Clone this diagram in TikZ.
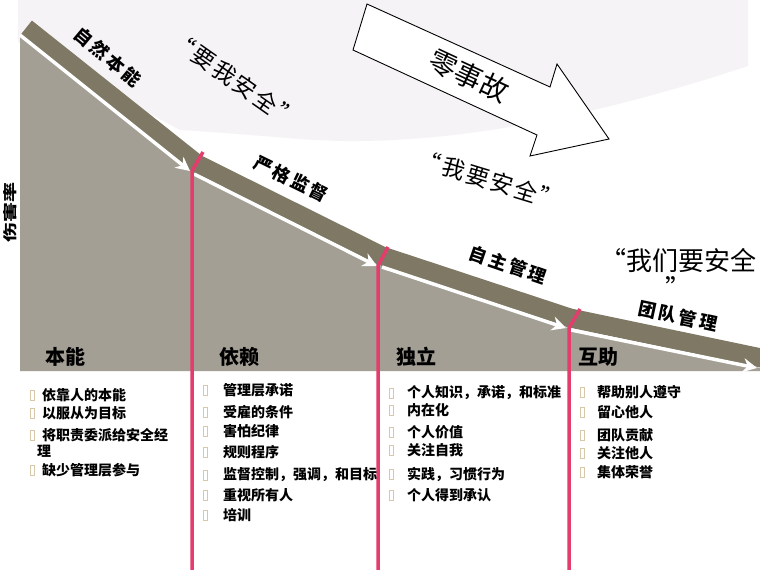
\documentclass[tikz,border=0pt]{standalone}
\usepackage{fontspec}
\setmainfont{Noto Sans CJK SC}
\usetikzlibrary{arrows.meta}

\definecolor{paper}{RGB}{246,243,246}
\definecolor{bandgray}{RGB}{126,120,101}
\definecolor{areagray}{RGB}{164,159,149}
\definecolor{pinkred}{RGB}{228,61,109}
\definecolor{bulcol}{RGB}{215,200,170}

\tikzset{
  wline/.style={white, line width=3.5pt, -{Stealth[length=14pt,width=14pt]}},
  pline/.style={pinkred, line width=3.5pt, line join=round},
  bandlbl/.style={font=\fontsize{18}{18}\selectfont\bfseries\addfontfeature{LetterSpace=15}},
  quotelbl/.style={font=\fontsize{23}{28}\selectfont\addfontfeature{LetterSpace=10}},
  stagelbl/.style={font=\fontsize{20}{20}\selectfont\bfseries},
  item/.style={anchor=west, font=\fontsize{14}{14}\selectfont\bfseries},
  bul/.style={draw=bulcol, line width=0.8pt}
}

\begin{document}
\begin{tikzpicture}[x=1pt, y=-1pt, every node/.style={inner sep=0pt}]
        \clip (0,0) rectangle (760,570);
        \fill[white] (0,0) rectangle (760,570);
        % background
        \fill[paper] (18,0) -- (748,0) -- (748,66) .. controls (600,115) and (440,150) .. (300,139)
              .. controls (250,135) and (215,132) .. (180,130) -- (18,42) -- cycle;
        % big arrow
        \draw[black, line width=0.9pt, fill=white, line join=miter]
              (367,4) -- (550,87) -- (557,64) -- (609,139) -- (530,156) -- (537,135) -- (353,50) -- cycle;
        \node[font=\fontsize{28}{28}\selectfont, rotate=-25] (lingshigu) at (469,76) {零事故};
        % band and area
        \draw[bandgray, line width=19pt] (26,28) -- (197,164) -- (382,256) -- (570,318) -- (790,364);
        \fill[areagray] (20,35) -- (191,171) -- (378,265) -- (568,328) -- (760,368) -- (760,371) -- (20,371) -- cycle;
        \draw[wline] (20,35) -- (190,171);
        \draw[wline] (194,174) -- (377,266);
        \draw[wline] (382,267) -- (566,328);
        \draw[wline] (571,330) -- (757,368);
        % stage borders
        \draw[pline] (203,152) -- (192,171) -- (192,575);
        \draw[pline] (388,247) -- (378,266) -- (378,575);
        \draw[pline] (580,309) -- (569,328) -- (569,575);
        % labels on the band
        \node[bandlbl, rotate=-40] (ziran) at (108,57) {自然本能};
        \node[bandlbl, rotate=-26] (yange) at (291,179) {严格监督};
        \node[bandlbl, rotate=-19] (zizhu) at (508,265) {自主管理};
        \node[bandlbl, rotate=-12] (tuandui) at (678,316) {团队管理};
        \node[quotelbl, rotate=-35] (yaowo) at (235,80) {“要我安全”};
        \node[quotelbl, rotate=-17] (woyao) at (490,180) {“我要安全”};
        \node[quotelbl, font=\fontsize{26}{28}\selectfont, align=center, anchor=north] (women) at (678,248) {“我们要安全\\”};
        \node[font=\fontsize{20}{20}\selectfont\bfseries, rotate=90, yscale=0.7] (shanghai) at (10,212) {伤害率};
        % stages
        \node[stagelbl] (benneng) at (65,357) {本能};
        \node[stagelbl] (yilai) at (239,357) {依赖};
        \node[stagelbl] (duli) at (416,357) {独立};
        \node[stagelbl] (huzhu) at (598,357) {互助};
        % lists
        \foreach \y/\t [count=\i] in {395/依靠人的本能, 413/以服从为目标, 435/将职责委派给安全经, 470/缺少管理层参与} {
          \draw[bul] (30,\y-5) rectangle (34.5,\y+5);
          \node[item] (ben\i) at (42,\y) {\t};
        }
        \node[item] (ben3b) at (37,451) {理};
        \foreach \y/\t [count=\i] in {390/管理层承诺, 412/受雇的条件, 431/害怕纪律, 452/规则程序, 475/监督控制，强调，和目标, 495/重视所有人, 515/培训} {
          \draw[bul] (203,\y-5) rectangle (207.5,\y+5);
          \node[item] (yi\i) at (223,\y) {\t};
        }
        \foreach \y/\t [count=\i] in {393/个人知识，承诺，和标准, 410/内在化, 432/个人价值, 450/关注自我, 474/实践，习惯行为, 495/个人得到承认} {
          \draw[bul] (389,\y-5) rectangle (393.5,\y+5);
          \node[item] (du\i) at (407,\y) {\t};
        }
        \foreach \y/\t [count=\i] in {392/帮助别人遵守, 412/留心他人, 435/团队贡献, 453/关注他人, 472/集体荣誉} {
          \draw[bul] (580,\y-5) rectangle (584.5,\y+5);
          \node[item] (hu\i) at (597,\y) {\t};
        }
      \end{tikzpicture}
\end{document}
